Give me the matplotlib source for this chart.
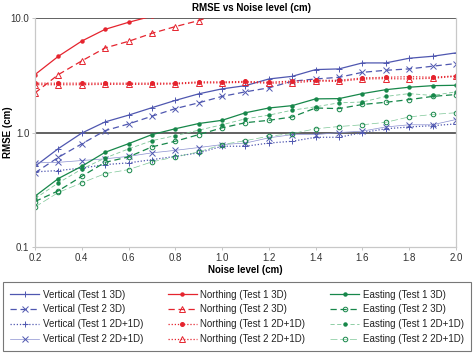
import matplotlib
matplotlib.use("Agg")
import matplotlib.pyplot as plt

plt.rcParams['font.family'] = ['Liberation Sans', 'DejaVu Sans']

noise = [0.2, 0.3, 0.4, 0.5, 0.6, 0.7, 0.8, 0.9, 1.0, 1.1,
         1.2, 1.3, 1.4, 1.5, 1.6, 1.7, 1.8, 1.9, 2.0]

vert_t1_3d = [0.508, 0.725, 0.99, 1.24, 1.42, 1.65, 1.91, 2.18, 2.41, 2.57,
              2.94, 3.10, 3.55, 3.60, 4.06, 4.06, 4.46, 4.64, 4.97]
vert_t2_3d = [0.445, 0.608, 0.797, 1.04, 1.19, 1.39, 1.62, 1.82, 2.07, 2.27,
              2.46, 2.81, 2.94, 3.04, 3.36, 3.50, 3.60, 3.80, 4.01]
vert_t1_2d = [0.454, 0.466, 0.49, 0.525, 0.544, 0.58, 0.62, 0.665, 0.76, 0.76,
              0.81, 0.84, 0.91, 0.91, 1.00, 1.08, 1.12, 1.15, 1.19]
vert_t2_2d = [0.544, 0.55, 0.57, 0.59, 0.62, 0.665, 0.70, 0.74, 0.786, 0.81,
              0.90, 0.96, 0.96, 1.00, 1.03, 1.12, 1.17, 1.17, 1.30]

north_t1_3d_x = [0.2, 0.3, 0.4, 0.5, 0.6, 0.7]
north_t1_3d = [3.21, 4.64, 6.30, 7.98, 9.19, 10.4]
north_t2_3d_x = [0.2, 0.3, 0.4, 0.5, 0.6, 0.7, 0.8, 0.9, 1.0]
north_t2_3d = [2.22, 3.21, 4.23, 5.49, 6.27, 7.36, 8.43, 9.51, 11.2]
north_t1_2d = [2.70, 2.70, 2.70, 2.70, 2.70, 2.70, 2.70, 2.77, 2.77, 2.80,
               2.75, 2.82, 2.86, 2.86, 3.00, 3.04, 3.08, 3.04, 3.13]
north_t2_2d = [2.62, 2.62, 2.62, 2.64, 2.64, 2.64, 2.66, 2.72, 2.72, 2.75,
               2.70, 2.72, 2.82, 2.80, 2.94, 2.96, 2.94, 2.98, 3.10]

east_t1_3d = [0.278, 0.397, 0.508, 0.673, 0.80, 0.96, 1.08, 1.20, 1.28, 1.49,
              1.64, 1.72, 1.97, 1.98, 2.19, 2.37, 2.49, 2.57, 2.59]
east_t2_3d = [0.25, 0.31, 0.415, 0.55, 0.613, 0.75, 0.84, 0.96, 1.10, 1.22,
              1.28, 1.37, 1.64, 1.62, 1.76, 1.84, 1.94, 2.07, 2.15]
east_t1_2d = [0.265, 0.364, 0.48, 0.60, 0.72, 0.85, 0.94, 1.05, 1.17, 1.32,
              1.42, 1.57, 1.68, 1.82, 1.85, 2.07, 2.19, 2.11, 2.27]
east_t2_2d = [0.224, 0.30, 0.364, 0.438, 0.475, 0.555, 0.613, 0.678, 0.786, 0.85,
              0.93, 0.98, 1.08, 1.13, 1.17, 1.23, 1.37, 1.44, 1.49]

x_ticks = [0.2, 0.4, 0.6, 0.8, 1.0, 1.2, 1.4, 1.6, 1.8, 2.0]
x_labels = ["0.2", "0.4", "0.6", "0.8", "1.0", "1.2", "1.4", "1.6", "1.8", "2.0"]
y_ticks = [0.1, 1.0, 10.0]
y_labels = ["0.1", "1.0", "10.0"]

BLUE = "#4f57b0"
BLUE_L = "#8a8fd0"
RED = "#e5242e"
GREEN = "#17874a"
GREEN_L = "#7cc696"

fig = plt.figure(figsize=(4.74, 3.55), dpi=100)
ax = fig.add_axes([0.0738, 0.304, 0.888, 0.645])

ax.plot(noise, vert_t1_3d, color=BLUE, lw=0.9, ls='-', marker='+', ms=5, mew=0.7,
        label="Vertical (Test 1 3D)")
ax.plot(noise, vert_t2_3d, color=BLUE, lw=0.9, ls=(0, (5, 3)), marker='x', ms=4, mew=0.7,
        label="Vertical (Test 2 3D)")
ax.plot(noise, vert_t1_2d, color=BLUE, lw=0.9, ls=(0, (1, 1.5)), marker='+', ms=5, mew=0.7,
        label="Vertical (Test 1 2D+1D)")
ax.plot(noise, vert_t2_2d, color=BLUE_L, lw=0.5, ls='-', marker='x', ms=4, mew=0.7,
        mec=BLUE, label="Vertical (Test 2 2D+1D)")

ax.plot(north_t1_3d_x, north_t1_3d, color=RED, lw=0.9, ls='-', marker='o', ms=2.2,
        label="Northing (Test 1 3D)")
ax.plot(north_t2_3d_x, north_t2_3d, color=RED, lw=0.9, ls=(0, (5, 3)), marker='^', ms=3.8,
        mfc='none', mew=0.7, label="Northing (Test 2 3D)")
ax.plot(noise, north_t1_2d, color=RED, lw=0.9, ls=(0, (1, 1.5)), marker='o', ms=2.6,
        label="Northing (Test 1 2D+1D)")
ax.plot(noise, north_t2_2d, color=RED, lw=0.9, ls=(0, (1, 1.5)), marker='^', ms=3.8,
        mfc='none', mew=0.7, label="Northing (Test 2 2D+1D)")

ax.plot(noise, east_t1_3d, color=GREEN, lw=0.9, ls='-', marker='o', ms=2.2,
        label="Easting (Test 1 3D)")
ax.plot(noise, east_t2_3d, color=GREEN, lw=0.9, ls=(0, (5, 3)), marker='o', ms=3.3,
        mfc='none', mew=0.7, label="Easting (Test 2 3D)")
ax.plot(noise, east_t1_2d, color=GREEN_L, lw=0.6, ls=(0, (5, 3)), marker='o', ms=2.2,
        mec=GREEN, mfc=GREEN, label="Easting (Test 1 2D+1D)")
ax.plot(noise, east_t2_2d, color=GREEN_L, lw=0.5, ls=(0, (10, 4)), marker='o', ms=3.3,
        mfc='none', mec=GREEN, mew=0.7, label="Easting (Test 2 2D+1D)")

ax.set_yscale('log')
ax.set_xlim(0.2, 2.0)
ax.set_ylim(0.1, 10.0)
ax.set_xticks(x_ticks)
ax.set_xticklabels(x_labels)
ax.set_yticks(y_ticks)
ax.set_yticklabels(y_labels)
ax.minorticks_off()
ax.tick_params(axis='both', labelsize=7, colors='#333333', length=2, width=0.6,
               color='#bbbbbb', pad=2)

for g in y_ticks[1:]:
    ax.axhline(g, color='#555555', lw=1.3, zorder=0.5)

for side in ['left', 'bottom', 'right']:
    ax.spines[side].set_color('#c8c8c8')
    ax.spines[side].set_linewidth(0.9)
ax.spines['top'].set_visible(False)

ax.set_title("RMSE vs Noise level (cm)", fontsize=7, fontweight='bold', pad=5, x=0.515)
ax.set_xlabel("Noise level (cm)", fontsize=7, fontweight='bold', labelpad=2)
ax.set_ylabel("RMSE (cm)", fontsize=7, fontweight='bold')
ax.yaxis.set_label_coords(-0.053, 0.5)

leg = fig.legend(loc='lower left', bbox_to_anchor=(0.006, 0.01, 0.988, 0.19),
                 mode='expand', ncol=3, fontsize=7, frameon=True, fancybox=False,
                 edgecolor='#555555', handlelength=3.0, handletextpad=0.35,
                 borderpad=0.75, labelspacing=0.5, columnspacing=1.0,
                 borderaxespad=0)
leg.get_frame().set_linewidth(0.8)
for t in leg.get_texts():
    t.set_color('#222222')

fig.savefig("out.png", dpi=100)
